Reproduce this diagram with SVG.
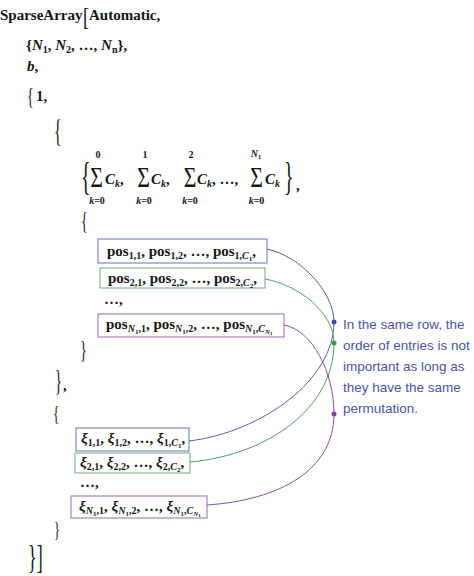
<svg xmlns="http://www.w3.org/2000/svg" width="474" height="576" viewBox="0 0 474 576">
<style>
.m{font-family:"Liberation Serif","Times New Roman",serif;font-weight:bold;font-size:15px;fill:#151515}
.i{font-style:italic}
.s{font-size:10px}
.ss{font-size:7px}
.br{font-weight:normal}
.lim{font-size:10px;text-anchor:middle}
.sig{font-weight:normal;font-size:29px;text-anchor:middle}
.note{font-family:"Liberation Sans",Arial,sans-serif;font-size:13.5px;fill:#4b55a5}
.bx{fill:#fff;stroke-width:1}
.blue{stroke:#6a72b2}
.green{stroke:#6fae78}
.purple{stroke:#9c69ad}
.con{fill:none;stroke-width:1}
</style>
<rect width="474" height="576" fill="#fff"/>
<g id="expression">
<text x="0" y="20" class="m">SparseArray</text>
<text class="m br" transform="translate(83,25) scale(0.7,1)" style="font-size:26px">[</text>
<text x="89" y="20" class="m">Automatic,</text>
<text x="26" y="50" class="m">{<tspan class="i">N</tspan><tspan class="s" dy="3">1</tspan><tspan dy="-3">, </tspan><tspan class="i">N</tspan><tspan class="s" dy="3">2</tspan><tspan dy="-3">, …, </tspan><tspan class="i">N</tspan><tspan class="s" dy="3">n</tspan><tspan dy="-3">},</tspan></text>
<text x="27" y="71" class="m"><tspan class="i">b</tspan>,</text>
<text class="m br" transform="translate(27,104) scale(0.6,1)" style="font-size:23px">{</text>
<text x="36" y="101" class="m">1,</text>
<text class="m br" transform="translate(54,142) scale(0.5,1)" style="font-size:32px">{</text>
<text class="m br" transform="translate(81,190) scale(0.5,1)" style="font-size:40px">{</text>
<text class="m sig" transform="translate(96.5,187) scale(0.75,1)">Σ</text>
<text x="98" y="158" class="m lim">0</text>
<text x="97" y="204" class="m lim"><tspan class="i">k</tspan>=0</text>
<text x="105" y="184" class="m"><tspan class="i">C</tspan><tspan class="s i" dy="3">k</tspan><tspan dy="-3">,</tspan></text>
<text class="m sig" transform="translate(143.5,187) scale(0.75,1)">Σ</text>
<text x="145" y="158" class="m lim">1</text>
<text x="144" y="204" class="m lim"><tspan class="i">k</tspan>=0</text>
<text x="151" y="184" class="m"><tspan class="i">C</tspan><tspan class="s i" dy="3">k</tspan><tspan dy="-3">,</tspan></text>
<text class="m sig" transform="translate(190,187) scale(0.75,1)">Σ</text>
<text x="191" y="158" class="m lim">2</text>
<text x="190" y="204" class="m lim"><tspan class="i">k</tspan>=0</text>
<text x="197" y="184" class="m"><tspan class="i">C</tspan><tspan class="s i" dy="3">k</tspan><tspan dy="-3">, …,</tspan></text>
<text class="m sig" transform="translate(256.5,187) scale(0.75,1)">Σ</text>
<text x="256" y="157" class="m lim"><tspan class="i">N</tspan><tspan class="ss" dy="2">1</tspan></text>
<text x="256.5" y="204" class="m lim"><tspan class="i">k</tspan>=0</text>
<text x="265" y="184" class="m"><tspan class="i">C</tspan><tspan class="s i" dy="3">k</tspan></text>
<text class="m br" transform="translate(284,190) scale(0.5,1)" style="font-size:40px">}</text>
<text x="296" y="190" class="m">,</text>
<text class="m br" transform="translate(81,229) scale(0.55,1)" style="font-size:25px">{</text>
<text x="104" y="304" class="m">…,</text>
<text class="m br" transform="translate(80,358) scale(0.55,1)" style="font-size:26px">}</text>
<text class="m br" transform="translate(55,390) scale(0.5,1)" style="font-size:29px">}</text>
<text x="63" y="390" class="m">,</text>
<text class="m br" transform="translate(53,420) scale(0.6,1)" style="font-size:22px">{</text>
<text x="80" y="487" class="m">…,</text>
<text class="m br" transform="translate(54,536) scale(0.6,1)" style="font-size:21px">}</text>
<text class="m br" transform="translate(28,568) scale(0.55,1)" style="font-size:33px">}]</text>
</g>
<g id="pos1">
<rect x="98" y="239" width="169" height="24" class="bx blue"/>
<text x="107" y="256" class="m">pos<tspan class="s" dy="3">1,1</tspan><tspan dy="-3">, pos</tspan><tspan class="s" dy="3">1,2</tspan><tspan dy="-3">, …, pos</tspan><tspan class="s" dy="3">1,<tspan class="i">C</tspan></tspan><tspan class="ss" dy="2">1</tspan><tspan dy="-5">,</tspan></text>
</g>
<g id="pos2">
<rect x="100" y="268" width="165" height="20" class="bx green"/>
<text x="108" y="283" class="m">pos<tspan class="s" dy="3">2,1</tspan><tspan dy="-3">, pos</tspan><tspan class="s" dy="3">2,2</tspan><tspan dy="-3">, …, pos</tspan><tspan class="s" dy="3">2,<tspan class="i">C</tspan></tspan><tspan class="ss" dy="2">2</tspan><tspan dy="-5">,</tspan></text>
</g>
<g id="posN">
<rect x="98" y="314" width="186" height="23" class="bx purple"/>
<text x="106" y="329" class="m">pos<tspan class="s i" dy="3">N</tspan><tspan class="ss" dy="2">1</tspan><tspan class="s" dy="-2">,1</tspan><tspan dy="-3">, pos</tspan><tspan class="s i" dy="3">N</tspan><tspan class="ss" dy="2">1</tspan><tspan class="s" dy="-2">,2</tspan><tspan dy="-3">, …, pos</tspan><tspan class="s i" dy="3">N</tspan><tspan class="ss" dy="2">1</tspan><tspan class="s" dy="-2">,<tspan class="i">C</tspan></tspan><tspan class="ss i" dy="2">N</tspan><tspan dy="1" style="font-size:5px">1</tspan></text>
</g>
<g id="xi1">
<rect x="76" y="428" width="113" height="23" class="bx blue"/>
<text x="81" y="443" class="m"><tspan class="i">ξ</tspan><tspan class="s" dy="3">1,1</tspan><tspan dy="-3">, </tspan><tspan class="i">ξ</tspan><tspan class="s" dy="3">1,2</tspan><tspan dy="-3">, …, </tspan><tspan class="i">ξ</tspan><tspan class="s" dy="3">1,<tspan class="i">C</tspan></tspan><tspan class="ss" dy="2">1</tspan><tspan dy="-5">,</tspan></text>
</g>
<g id="xi2">
<rect x="75" y="453" width="115" height="20" class="bx green"/>
<text x="80" y="467" class="m"><tspan class="i">ξ</tspan><tspan class="s" dy="3">2,1</tspan><tspan dy="-3">, </tspan><tspan class="i">ξ</tspan><tspan class="s" dy="3">2,2</tspan><tspan dy="-3">, …, </tspan><tspan class="i">ξ</tspan><tspan class="s" dy="3">2,<tspan class="i">C</tspan></tspan><tspan class="ss" dy="2">2</tspan><tspan dy="-5">,</tspan></text>
</g>
<g id="xiN">
<rect x="71" y="496" width="136" height="22" class="bx purple"/>
<text x="79" y="511" class="m"><tspan class="i">ξ</tspan><tspan class="s i" dy="3">N</tspan><tspan class="ss" dy="2">1</tspan><tspan class="s" dy="-2">,1</tspan><tspan dy="-3">, </tspan><tspan class="i">ξ</tspan><tspan class="s i" dy="3">N</tspan><tspan class="ss" dy="2">1</tspan><tspan class="s" dy="-2">,2</tspan><tspan dy="-3">, …, </tspan><tspan class="i">ξ</tspan><tspan class="s i" dy="3">N</tspan><tspan class="ss" dy="2">1</tspan><tspan class="s" dy="-2">,<tspan class="i">C</tspan></tspan><tspan class="ss i" dy="2">N</tspan><tspan dy="1" style="font-size:5px">1</tspan></text>
</g>
<g id="connectors">
<path class="con" stroke="#5560a6" d="M267,249 C300,256 334,292 334,322 C334,380 262,432 189,441"/>
<path class="con" stroke="#4fa15c" d="M265,279 C298,285 334,312 334,343 C334,408 268,455 190,462"/>
<path class="con" stroke="#8d4f9f" d="M284,325 C312,330 334,372 334,414 C334,470 280,500 207,505"/>
<circle cx="334" cy="322" r="2.5" fill="#3a4a9c"/>
<circle cx="334" cy="343" r="2.5" fill="#3a9a48"/>
<circle cx="334" cy="414" r="2.5" fill="#84409a"/>
</g>
<g id="note">
<text class="note" x="343" y="329">In the same row, the</text>
<text class="note" x="343" y="350">order of entries is not</text>
<text class="note" x="343" y="371">important as long as</text>
<text class="note" x="343" y="392">they have the same</text>
<text class="note" x="343" y="413">permutation.</text>
</g>
</svg>
